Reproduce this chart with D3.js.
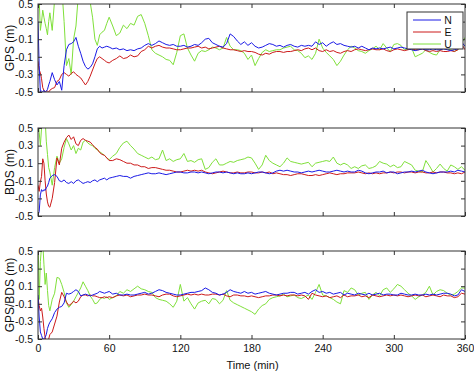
<!DOCTYPE html>
<meta charset="utf-8" />
<script src="https://d3js.org/d3.v7.min.js"></script>
<style>
  body { margin: 0; background: #fff; }
  svg { display: block; font-family: "Liberation Sans", Arial, sans-serif; }
</style>
<body>
<div id="my_dataviz"></div>
<script>
  // time axis (min)
  var time = [0,1,2,3,4,5,6,7,8,9,10,
    12,14,16,18,20,22,24,26,28,30,32,34,36,38,40,42,44,46,48,50,52,54,56,58,60,
    63,66,69,72,75,78,81,84,87,90,93,96,
    99,102,105,108,111,114,117,120,123,126,129,132,135,138,141,144,147,150,153,156,
    159,162,165,168,171,174,177,180,183,186,189,192,195,198,201,204,207,210,213,216,
    219,222,225,228,
    231,234,237,240,243,246,249,252,255,258,261,264,267,270,273,276,279,282,285,288,
    291,294,297,300,303,306,309,312,315,318,321,324,327,330,333,336,339,342,345,348,
    351,354,357,360];

  var seriesNames = ["N", "E", "U"];
  var panelLabels = ["GPS (m)", "BDS (m)", "GPS/BDS (m)"];
  var yTicks = [-0.5, -0.3, -0.1, 0.1, 0.3, 0.5];
  var xTicks = [0, 60, 120, 180, 240, 300, 360];

  // GPS only
  var gpsN = [0.3,-0.2,-0.5,-0.49,-0.5,-0.48,-0.5,-0.49,-0.47,-0.42,-0.38,
    -0.28,-0.36,-0.42,-0.38,-0.48,-0.2,-0.02,0.04,0.05,0.07,0.12,0.02,-0.06,-0.15,-0.21,-0.24,-0.22,-0.18,-0.1,-0.01,0.02,0.0,0.01,0.02,0.01,
    -0.01,0.0,-0.02,-0.01,-0.03,-0.02,-0.03,-0.01,0.0,0.03,0.05,0.03,
    0.05,0.08,0.06,0.04,0.03,0.04,0.02,0.02,0.03,0.01,0.02,0.04,0.03,0.06,0.1,0.11,0.06,0.04,0.02,0.01,
    0.05,0.16,0.13,0.08,0.04,0.07,0.03,0.06,0.02,0.0,0.01,0.03,0.05,0.04,0.02,0.03,0.01,0.03,0.04,0.02,
    0.01,0.03,0.02,0.03,
    0.02,0.07,0.04,0.06,0.02,0.05,0.07,0.04,0.05,0.03,0.02,0.01,0.02,0.0,0.02,0.0,-0.02,0.0,-0.01,0.0,
    -0.01,0.0,0.01,-0.01,0.0,0.01,0.0,-0.01,-0.02,-0.03,-0.02,-0.01,-0.02,-0.02,-0.01,-0.02,-0.02,-0.01,-0.02,-0.03,
    -0.02,-0.01,0.07,0.02];
  var gpsE = [-0.15,-0.25,-0.28,-0.35,-0.45,-0.48,-0.5,-0.5,-0.49,-0.5,-0.48,
    -0.46,-0.45,-0.38,-0.36,-0.3,-0.28,-0.3,-0.32,-0.29,-0.27,-0.3,-0.32,-0.34,-0.38,-0.42,-0.38,-0.32,-0.25,-0.18,-0.12,-0.1,-0.12,-0.14,-0.16,-0.17,
    -0.14,-0.12,-0.09,-0.12,-0.11,-0.08,-0.1,-0.09,-0.04,-0.02,0.02,0.0,
    0.02,0.03,0.01,0.0,0.0,-0.01,-0.02,-0.02,-0.01,0.0,0.0,0.01,0.02,0.0,0.01,-0.01,0.0,0.01,0.02,0.0,
    -0.01,-0.02,-0.02,-0.03,-0.04,-0.03,-0.04,-0.04,-0.05,-0.07,-0.08,-0.06,-0.07,-0.05,-0.04,-0.04,-0.05,-0.04,-0.04,-0.03,
    -0.02,-0.03,-0.01,0.0,
    -0.02,0.0,-0.03,-0.04,-0.02,-0.04,-0.03,-0.05,-0.06,-0.04,-0.03,-0.04,-0.02,-0.01,-0.02,-0.03,-0.02,-0.01,-0.02,-0.02,
    -0.01,-0.03,-0.04,-0.02,-0.01,-0.02,-0.03,-0.02,-0.01,-0.02,-0.02,-0.01,-0.03,-0.04,-0.03,-0.04,-0.03,-0.04,-0.04,-0.03,
    -0.04,-0.02,0.05,-0.02];
  var gpsU = [0.7,0.55,0.2,0.3,0.43,0.35,0.28,0.22,0.15,0.3,0.4,
    0.2,0.55,0.8,0.9,0.7,0.3,-0.2,-0.12,-0.3,0.1,0.25,0.6,0.85,0.9,0.8,0.65,0.52,0.35,0.1,0.03,0.15,0.18,0.2,0.28,0.35,
    0.25,0.14,0.17,0.26,0.22,0.28,0.26,0.36,0.38,0.28,0.14,-0.02,
    -0.06,-0.08,-0.1,-0.13,-0.14,-0.19,-0.05,0.14,0.16,0.0,-0.08,-0.15,-0.06,-0.03,-0.04,-0.02,0.01,0.0,-0.02,0.0,
    0.12,0.02,-0.02,-0.02,-0.03,-0.06,-0.13,-0.08,-0.2,-0.12,-0.05,-0.02,-0.04,-0.03,-0.02,-0.02,0.0,0.01,0.02,-0.02,
    -0.03,-0.06,-0.11,-0.09,
    -0.13,-0.06,0.1,0.0,-0.05,-0.09,-0.13,-0.2,-0.15,-0.08,-0.02,0.02,0.0,-0.03,-0.04,-0.06,-0.03,-0.01,0.02,-0.02,
    0.05,0.0,-0.04,0.04,0.05,0.03,-0.02,-0.01,0.0,-0.1,-0.08,-0.06,-0.02,-0.05,-0.07,-0.08,-0.02,0.0,-0.01,-0.02,
    -0.04,-0.02,0.05,0.12];

  // BDS only
  var bdsN = [-0.49,-0.45,-0.26,-0.2,-0.22,-0.2,-0.21,-0.18,-0.16,-0.12,-0.07,
    -0.04,-0.03,-0.05,-0.1,-0.11,-0.09,-0.12,-0.13,-0.11,-0.13,-0.1,-0.09,-0.11,-0.13,-0.12,-0.11,-0.12,-0.1,-0.09,-0.11,-0.09,-0.08,-0.07,-0.09,-0.07,
    -0.06,-0.05,-0.04,-0.05,-0.05,-0.07,-0.05,-0.04,-0.03,-0.02,-0.01,-0.02,
    -0.02,-0.01,-0.02,-0.03,-0.02,-0.01,0.0,0.0,-0.01,-0.01,0.0,0.0,-0.01,0.0,-0.01,-0.02,-0.01,0.0,0.0,-0.01,
    0.0,-0.01,-0.02,-0.01,-0.02,-0.02,-0.01,-0.02,-0.01,0.0,0.0,-0.01,-0.02,-0.01,0.01,0.02,0.01,0.02,0.01,0.0,
    0.0,-0.01,0.0,0.01,
    0.0,0.01,0.02,0.01,0.0,0.0,0.01,0.02,0.01,0.0,0.01,0.0,0.0,0.02,0.01,-0.01,-0.02,-0.01,0.0,0.0,
    0.01,-0.01,0.0,0.0,-0.02,-0.01,0.0,0.0,0.01,0.0,0.01,0.02,0.0,-0.01,-0.02,-0.01,0.0,0.0,0.0,0.01,
    0.0,0.02,0.01,0.0];
  var bdsE = [-0.15,-0.22,-0.11,-0.05,0.15,0.1,-0.1,-0.25,-0.34,-0.39,-0.4,
    -0.3,-0.12,0.16,0.08,0.27,0.34,0.39,0.42,0.37,0.4,0.32,0.3,0.36,0.38,0.36,0.35,0.34,0.31,0.28,0.26,0.22,0.2,0.19,0.16,0.13,
    0.13,0.15,0.14,0.12,0.1,0.1,0.08,0.08,0.06,0.06,0.04,0.05,
    0.05,0.04,0.03,0.02,0.02,0.01,0.0,0.0,0.01,0.02,0.01,0.02,0.01,0.02,0.0,-0.01,-0.02,-0.01,0.0,0.01,
    0.0,-0.01,-0.01,0.0,-0.01,-0.01,0.0,0.0,-0.01,-0.01,0.0,-0.01,0.0,-0.02,-0.01,-0.02,-0.03,-0.03,-0.04,-0.03,
    -0.02,-0.02,-0.03,-0.04,
    -0.04,-0.03,-0.04,-0.03,-0.02,-0.01,-0.02,-0.03,-0.02,-0.02,-0.01,-0.01,-0.01,0.0,-0.01,-0.02,-0.01,-0.02,-0.01,-0.02,
    -0.01,-0.01,0.0,-0.01,0.0,0.0,-0.01,0.0,0.0,-0.01,0.0,0.0,-0.01,-0.01,0.0,-0.01,0.0,0.0,-0.01,-0.01,
    -0.02,-0.01,-0.02,0.0];
  var bdsU = [0.7,0.45,0.3,0.5,0.7,0.75,0.6,0.35,0.2,0.05,0.0,
    -0.15,0.05,0.18,0.1,0.15,0.28,0.38,0.32,0.25,0.3,0.21,0.27,0.25,0.34,0.36,0.33,0.31,0.3,0.27,0.25,0.23,0.21,0.19,0.16,0.14,
    0.18,0.21,0.28,0.33,0.35,0.3,0.26,0.21,0.19,0.17,0.15,0.17,
    0.14,0.15,0.25,0.13,0.15,0.12,0.14,0.15,0.21,0.12,0.13,0.11,0.14,0.15,0.03,0.05,0.11,0.15,0.08,0.08,
    0.1,0.12,0.11,0.13,0.14,0.15,0.17,0.16,0.1,0.03,0.08,0.19,0.13,0.1,0.08,0.06,0.1,0.16,0.12,0.11,
    0.1,0.09,0.1,0.11,
    0.06,0.1,0.11,0.12,0.13,0.12,0.17,0.1,0.08,0.1,0.08,0.04,0.06,0.04,0.07,0.08,0.04,0.05,0.07,0.12,
    0.1,0.09,0.06,0.08,0.05,0.06,0.12,0.1,0.08,0.02,0.01,0.0,0.13,0.07,0.0,0.04,0.09,0.04,0.01,0.08,
    0.06,0.03,0.06,0.02];

  // GPS/BDS combined
  var comN = [0.0,-0.25,-0.42,-0.46,-0.5,-0.5,-0.48,-0.45,-0.38,-0.34,-0.31,
    -0.27,-0.2,-0.16,-0.14,-0.13,-0.09,0.02,0.01,0.02,0.04,0.06,0.04,-0.01,0.0,0.01,0.0,-0.01,0.0,0.01,0.02,0.04,0.03,0.02,0.03,0.04,
    0.01,0.02,0.0,0.0,0.01,0.0,0.0,0.01,0.02,0.03,0.01,0.02,
    0.04,0.06,0.05,0.03,0.02,0.01,0.0,0.0,0.01,0.02,0.03,0.03,0.04,0.05,0.08,0.06,0.03,0.02,0.0,0.01,
    0.03,0.06,0.04,0.03,0.02,0.04,0.02,0.03,0.01,0.02,0.03,0.04,0.02,0.01,0.0,0.01,0.02,0.02,0.03,0.03,
    0.01,0.02,0.03,0.01,
    0.04,0.06,0.03,0.04,0.02,0.03,0.01,0.02,0.03,0.0,0.02,0.01,0.0,0.02,0.01,0.0,0.02,0.0,0.01,0.02,
    0.0,0.01,0.01,0.0,0.0,0.02,0.01,0.0,0.0,0.01,0.0,0.0,0.01,0.0,0.01,0.0,0.01,0.02,0.02,0.01,
    -0.01,0.0,0.06,0.04];
  var comE = [-0.03,-0.12,-0.18,-0.15,-0.25,-0.38,-0.48,-0.52,-0.53,-0.5,-0.45,
    -0.42,-0.33,-0.24,-0.08,0.03,-0.02,-0.08,-0.12,-0.1,-0.07,-0.09,-0.07,-0.02,0.0,0.0,-0.01,0.0,-0.01,-0.01,-0.02,-0.03,-0.03,-0.02,-0.03,-0.02,
    -0.03,-0.01,0.0,-0.01,0.0,-0.02,-0.01,0.0,0.0,0.01,0.0,0.0,
    -0.01,-0.02,0.0,0.01,0.01,-0.01,-0.02,-0.01,0.0,0.01,0.0,0.01,0.0,0.01,0.0,0.0,0.01,0.01,0.0,0.01,
    -0.01,-0.02,0.0,0.0,-0.01,-0.01,-0.02,-0.01,-0.02,-0.03,-0.02,-0.01,-0.01,0.0,0.0,-0.01,0.0,-0.01,0.0,0.0,
    -0.01,0.0,-0.01,-0.05,
    0.02,0.0,-0.01,-0.02,-0.01,-0.03,-0.02,-0.01,-0.03,0.0,-0.02,-0.01,-0.01,0.0,-0.02,-0.01,-0.03,0.0,-0.01,-0.02,
    -0.01,0.0,-0.01,0.0,-0.01,0.0,-0.01,-0.02,-0.01,0.0,-0.01,0.0,-0.02,-0.01,0.0,-0.01,-0.02,0.0,-0.01,-0.01,
    -0.03,-0.02,0.02,0.01];
  var comU = [0.7,-0.05,0.38,0.55,0.6,0.35,0.12,0.25,0.05,-0.12,-0.18,
    -0.05,0.02,0.2,0.19,0.12,0.03,-0.09,-0.14,-0.11,-0.07,-0.02,0.03,0.08,0.15,0.1,0.05,-0.01,-0.05,-0.1,-0.09,-0.05,-0.03,-0.04,-0.02,-0.05,
    -0.03,-0.01,0.04,0.02,0.06,0.04,0.07,0.1,0.07,0.06,0.04,0.03,
    -0.03,-0.05,-0.06,-0.07,-0.1,-0.14,-0.07,0.12,-0.07,-0.03,-0.1,-0.16,-0.09,-0.07,-0.06,-0.1,-0.04,-0.05,-0.1,-0.06,
    0.05,-0.06,-0.09,-0.11,-0.13,-0.15,-0.17,-0.19,-0.22,-0.16,-0.12,-0.1,-0.05,-0.03,-0.02,-0.01,0.01,-0.02,-0.01,0.0,
    -0.03,-0.04,-0.02,0.0,
    -0.05,0.03,0.12,0.0,-0.01,-0.03,-0.05,-0.08,-0.1,0.05,0.03,0.08,0.06,0.0,0.02,0.03,-0.05,0.0,0.03,-0.01,
    0.06,0.08,0.03,0.07,0.12,0.1,0.06,0.02,-0.01,-0.05,-0.02,0.0,0.03,0.1,0.0,0.04,0.06,0.05,0.02,0.0,
    0.01,0.04,0.08,0.08];

  var panels = [[gpsN, gpsE, gpsU], [bdsN, bdsE, bdsU], [comN, comE, comU]];
  var colors = ["#1a1ae6", "#cc1a1a", "#7fe03a"];

  var W = 474, H = 373;
  var left = 38, right = 465;
  var tops = [4, 128, 251], ph = 88;

  var svg = d3.select("#my_dataviz").append("svg")
    .attr("width", W).attr("height", H);

  var x = d3.scaleLinear().domain([0, 360]).range([left, right]);

  panels.forEach(function (series, p) {
    var top = tops[p], bottom = top + ph;
    var y = d3.scaleLinear().domain([-0.5, 0.5]).range([bottom, top]);
    var g = svg.append("g");

    g.append("clipPath").attr("id", "clip" + p)
      .append("rect").attr("x", left).attr("y", top)
      .attr("width", right - left).attr("height", ph);

    var line = d3.line()
      .x(function (d, i) { return x(time[i]); })
      .y(function (d) { return y(d); });

    // U drawn first, then E, then N on top
    [2, 1, 0].forEach(function (k) {
      g.append("path")
        .datum(series[k])
        .attr("clip-path", "url(#clip" + p + ")")
        .attr("fill", "none")
        .attr("stroke", colors[k])
        .attr("stroke-width", 1)
        .attr("stroke-linejoin", "round")
        .attr("d", line);
    });

    // axes, ticks inside like matlab
    var fmt = function (d) { return d.toFixed(1); };
    var yl = g.append("g").attr("transform", "translate(" + left + ",0)")
      .call(d3.axisLeft(y).tickValues(yTicks).tickFormat(fmt).tickSize(-4).tickPadding(5));
    var yr = g.append("g").attr("transform", "translate(" + right + ",0)")
      .call(d3.axisRight(y).tickValues(yTicks).tickFormat("").tickSize(-4));
    var xt = g.append("g").attr("transform", "translate(0," + top + ")")
      .call(d3.axisTop(x).tickValues(xTicks).tickFormat("").tickSize(-4));
    var xb = g.append("g").attr("transform", "translate(0," + bottom + ")")
      .call(d3.axisBottom(x).tickValues(xTicks)
        .tickFormat(p === 2 ? d3.format("d") : "").tickSize(-4).tickPadding(6));

    [yl, yr, xt, xb].forEach(function (a) {
      a.select(".domain").remove();
      a.selectAll("line").attr("stroke", "#333");
      a.selectAll("text").attr("fill", "#111").style("font-size", "10.5px");
    });

    g.append("rect")
      .attr("x", left).attr("y", top)
      .attr("width", right - left).attr("height", ph)
      .attr("fill", "none").attr("stroke", "#333").attr("stroke-width", 1);

    g.append("text")
      .attr("transform", "translate(10," + (top + ph / 2) + ") rotate(-90)")
      .attr("text-anchor", "middle")
      .attr("dy", "0.35em")
      .style("font-size", "12px")
      .attr("fill", "#111")
      .text(panelLabels[p]);
  });

  svg.append("text")
    .attr("x", (left + right) / 2 + 1).attr("y", 369)
    .attr("text-anchor", "middle")
    .style("font-size", "11px")
    .attr("fill", "#111")
    .text("Time (min)");

  // legend
  var lg = svg.append("g");
  lg.append("rect")
    .attr("x", 407).attr("y", 12).attr("width", 56).attr("height", 37)
    .attr("fill", "#fff").attr("stroke", "#333").attr("stroke-width", 1);
  seriesNames.forEach(function (name, k) {
    var yy = 20 + k * 12;
    lg.append("line")
      .attr("x1", 413).attr("x2", 441).attr("y1", yy).attr("y2", yy)
      .attr("stroke", colors[k]).attr("stroke-width", 1);
    lg.append("text")
      .attr("x", 448).attr("y", yy + 3.5)
      .attr("text-anchor", "middle")
      .style("font-size", "10.5px")
      .attr("fill", "#111")
      .text(name);
  });
</script>
</body>
